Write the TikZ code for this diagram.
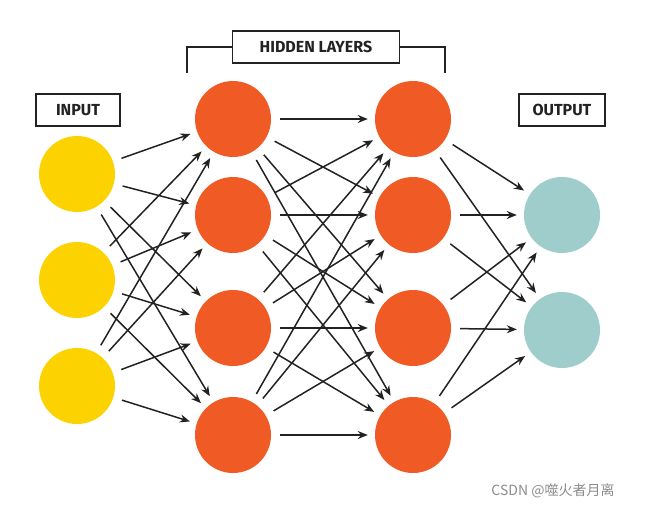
\documentclass[tikz,border=0pt]{standalone}
\usepackage{fontspec}
\setmainfont{Fira Sans}
\newfontfamily\cjk{Noto Sans CJK SC}
\usetikzlibrary{arrows.meta}
\definecolor{inc}{HTML}{FCD200}
\definecolor{hid}{HTML}{F05A24}
\definecolor{outc}{HTML}{9FCDCB}
\definecolor{ink}{HTML}{222222}
\begin{document}
\begin{tikzpicture}[x=1pt,y=-1pt,
  neuron/.style={circle,minimum size=76pt,inner sep=0pt},
  lab/.style={draw=ink,line width=1.8pt,font=\bfseries\fontsize{16}{16}\selectfont,text=ink,inner xsep=6pt,minimum height=32pt},
  conn/.style={-{Stealth[length=10pt,width=8pt]},line width=1.5pt,draw=ink,shorten <=9pt,shorten >=7pt}]
\useasboundingbox (0,0) rectangle (654,511);
\foreach \i/\y in {1/174,2/280,3/386} \node[neuron,fill=inc] (i\i) at (77,\y) {};
\foreach \i/\y in {1/119,2/215,3/328,4/435} {
  \node[neuron,fill=hid] (a\i) at (233,\y) {};
  \node[neuron,fill=hid] (b\i) at (413,\y) {};
}
\foreach \i/\y in {1/215,2/330} \node[neuron,fill=outc] (o\i) at (562,\y) {};
\foreach \s in {1,2,3} \foreach \t in {1,2,3,4} \draw[conn] (i\s) -- (a\t);
\foreach \s in {1,2,3,4} \foreach \t in {1,2,3,4} \draw[conn] (a\s) -- (b\t);
\foreach \s in {1,2,3,4} \foreach \t in {1,2} \draw[conn] (b\s) -- (o\t);
\node[lab,minimum width=84pt] (inl) at (78,110) {INPUT};
\node[lab,minimum width=86pt] (outl) at (562,110) {OUTPUT};
\node[lab,minimum width=167pt] (hl) at (316,47) {HIDDEN LAYERS};
\draw[ink,line width=1.8pt] (hl.west) -- (187,47) -- (187,73);
\draw[ink,line width=1.8pt] (hl.east) -- (445,47) -- (445,73);
\node[text=gray!90,font=\cjk\fontsize{14}{14}\selectfont] (wm) at (553,491) {CSDN @噬火者月离};
\end{tikzpicture}
\end{document}
